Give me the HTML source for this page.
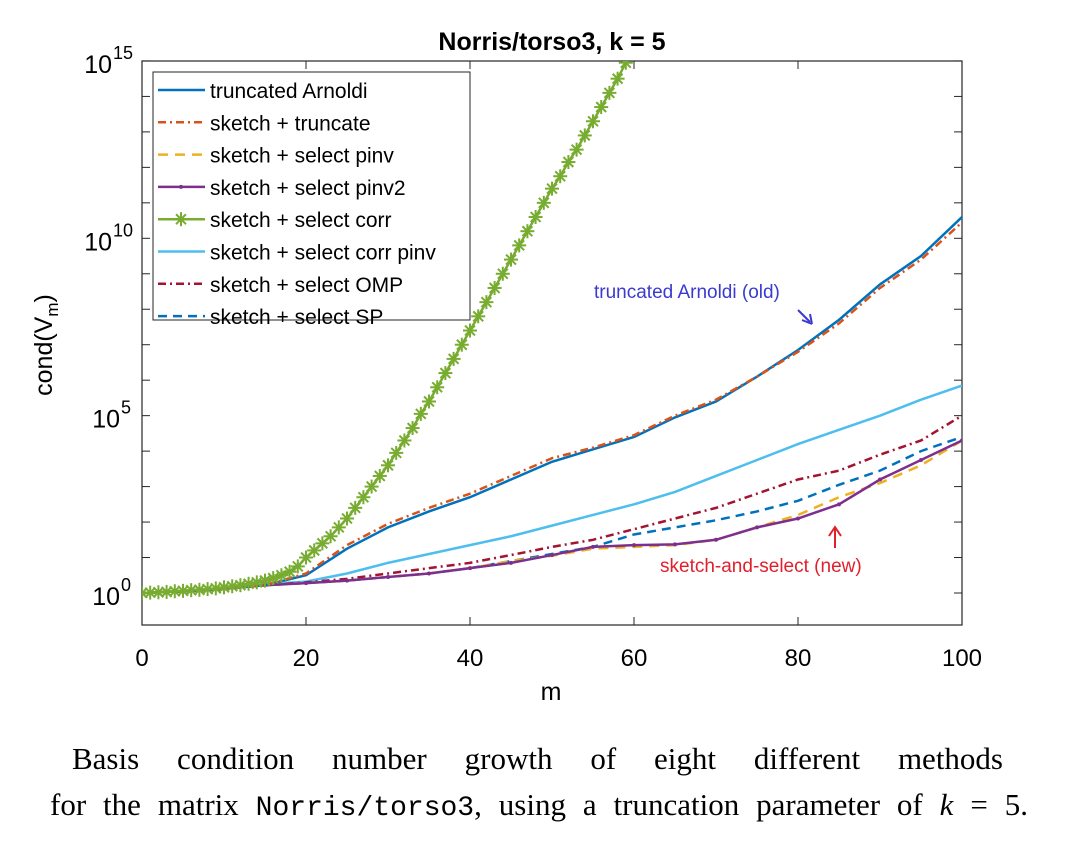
<!DOCTYPE html>
<html><head><meta charset="utf-8"><style>
body{margin:0;background:#fff;width:1082px;height:850px;overflow:hidden;position:relative}
svg{display:block}
.cap{position:absolute;font-family:"Liberation Serif",serif;font-size:31px;text-align:justify;text-align-last:justify;white-space:nowrap}
.mono{font-family:"Liberation Mono",monospace;font-size:28px}
</style></head><body>
<svg width="1082" height="850" font-family="Liberation Sans, sans-serif">
<defs><clipPath id="pc"><rect x="142" y="61" width="820" height="564"/></clipPath></defs>
<text x="552" y="50" text-anchor="middle" font-size="25" font-weight="bold">Norris/torso3, k = 5</text>
<g id="axes"></g>
<g id="series" clip-path="url(#pc)"></g>
<text x="551" y="700" text-anchor="middle" font-size="25">m</text>
<text transform="translate(52,345) rotate(-90)" text-anchor="middle" font-size="25">cond(V<tspan font-size="17" dy="6">m</tspan><tspan dy="-6">)</tspan></text>
<text x="594" y="298" font-size="19" fill="#3a3ad0">truncated Arnoldi (old)</text>
<line x1="798" y1="310" x2="810" y2="322" stroke="#3a3ad0" stroke-width="2"/>
<path d="M812 324 L802 320 M812 324 L810 314" stroke="#3a3ad0" stroke-width="2" fill="none"/>
<text x="660" y="572" font-size="19" fill="#e0202a">sketch-and-select (new)</text>
<line x1="835" y1="548" x2="835" y2="528" stroke="#e0202a" stroke-width="2"/>
<path d="M829 536 L835 527 L841 536" stroke="#e0202a" stroke-width="2" fill="none"/>
<g id="legend"></g>
</svg>
<div class="cap" style="left:72px;top:741px;width:931px">Basis condition number growth of eight different methods</div>
<div class="cap" style="left:50px;top:787px;width:978px">for the matrix <span class="mono">Norris/torso3</span>, using a truncation parameter of <i>k</i> = 5.</div>
<script>
const mSteps=[0,5,10,15,20,25,30,35,40,45,50,55,60,65,70,75,80,85,90,95,100];
const truncArnoldi=[0,0.05,0.12,0.22,0.5,1.25,1.85,2.3,2.7,3.2,3.7,4.05,4.4,4.95,5.4,6.1,6.85,7.7,8.7,9.5,10.6];
const sketchTrunc=[0,0.05,0.12,0.22,0.55,1.35,1.95,2.4,2.8,3.3,3.8,4.1,4.45,5.0,5.45,6.1,6.8,7.6,8.6,9.4,10.45];
const corrPinv=[0,0.06,0.12,0.25,0.32,0.55,0.85,1.1,1.35,1.6,1.9,2.2,2.5,2.85,3.3,3.75,4.2,4.6,5.0,5.45,5.85];
const omp=[0,0.05,0.12,0.22,0.3,0.4,0.55,0.7,0.85,1.07,1.3,1.5,1.8,2.1,2.4,2.8,3.2,3.45,3.9,4.3,5.0];
const sp=[0,0.05,0.12,0.22,0.28,0.35,0.45,0.55,0.7,0.9,1.1,1.3,1.65,1.85,2.05,2.3,2.6,3.05,3.45,4.0,4.4];
const pinv=[0,0.05,0.12,0.22,0.28,0.35,0.45,0.55,0.7,0.9,1.05,1.25,1.3,1.35,1.5,1.85,2.2,2.7,3.1,3.6,4.3];
const pinv2=[0,0.05,0.12,0.22,0.28,0.35,0.45,0.55,0.7,0.85,1.07,1.3,1.35,1.37,1.5,1.85,2.1,2.5,3.2,3.75,4.3];
const corrM=[0,1,2,3,4,5,6,7,8,9,10,11,12,13,14,15,16,17,18,19,20,21,22,23,24,25,26,27,28,29,30,31,32,33,34,35,36,37,38,39,40,41,42,43,44,45,46,47,48,49,50,51,52,53,54,55,56,57,58,59,60];
const corr=[0,0.01,0.02,0.03,0.05,0.06,0.08,0.09,0.11,0.13,0.16,0.19,0.22,0.26,0.3,0.35,0.42,0.5,0.6,0.75,1.0,1.2,1.4,1.6,1.85,2.1,2.4,2.7,3.0,3.3,3.6,3.95,4.3,4.65,5.05,5.4,5.8,6.2,6.6,7.0,7.4,7.8,8.2,8.6,9.0,9.4,9.8,10.2,10.6,11.0,11.4,11.75,12.15,12.5,12.9,13.3,13.7,14.1,14.5,14.95,15.4];
const xTicks=[0,20,40,60,80,100];
const yLabelExps=[0,5,10,15];
const NS='http://www.w3.org/2000/svg';
const X=m=>142+m*8.2, Y=l=>593-l*35.47;
function el(t,a,p){const e=document.createElementNS(NS,t);for(const k in a)e.setAttribute(k,a[k]);p.appendChild(e);return e;}
const ax=document.getElementById('axes');
const frame=el('rect',{x:142,y:61,width:820,height:564,fill:'none',stroke:'#262626','stroke-width':1.2},ax);


xTicks.forEach(v=>{
  el('line',{x1:X(v),x2:X(v),y1:625,y2:617,stroke:'#262626'},ax);
  el('line',{x1:X(v),x2:X(v),y1:61,y2:69,stroke:'#262626'},ax);
  const t=el('text',{x:X(v),y:666,'text-anchor':'middle','font-size':24},ax);t.textContent=v;
  
  
});
for(let d=0;d<=15;d++){
  el('line',{x1:142,x2:150,y1:Y(d),y2:Y(d),stroke:'#262626'},ax);
  el('line',{x1:962,x2:954,y1:Y(d),y2:Y(d),stroke:'#262626'},ax);
}
yLabelExps.forEach(e=>{
  const t=el('text',{x:e>=10?112:120,y:Y(e)+12,'text-anchor':'end','font-size':25},ax);
  t.textContent='10';
  
  
  const s=el('text',{x:e>=10?113:121,y:Y(e)-2,'font-size':18},ax);s.textContent=e;
});
const sg=document.getElementById('series');
function line(ms,vals,color,dash,w,name){
  const p=el('polyline',{points:ms.map((m,i)=>X(m)+','+Y(vals[i])).join(' '),fill:'none',stroke:color,'stroke-width':w,'stroke-dasharray':dash||'none'},sg);
  
  
  return p;
}
line(mSteps,corrPinv,'#4dbeee','',2.5,'series-corr-pinv');
line(mSteps,omp,'#a2142f','8,4,2,4',2.5,'series-omp');
line(mSteps,sp,'#0072bd','9,6',2.5,'series-sp');
line(mSteps,pinv,'#edb120','10,7',2.5,'series-pinv');
line(mSteps,pinv2,'#7e2f8e','',2.5,'series-pinv2');
mSteps.forEach((m,i)=>el('circle',{cx:X(m),cy:Y(pinv2[i]),r:2,fill:'#7e2f8e'},sg));
line(mSteps,truncArnoldi,'#0072bd','',2.5,'series-truncated-arnoldi');
line(mSteps,sketchTrunc,'#d95319','8,4,2,4',2.5,'series-sketch-truncate');
line(corrM,corr,'#77ac30','',2.5,'series-corr');
function star(cx,cy,g,r){for(let k=0;k<4;k++){const a=k*Math.PI/4;el('line',{x1:cx-r*Math.cos(a),y1:cy-r*Math.sin(a),x2:cx+r*Math.cos(a),y2:cy+r*Math.sin(a),stroke:'#77ac30','stroke-width':2},g);}}
corrM.forEach((m,i)=>star(X(m),Y(corr[i]),sg,7));
const lg=document.getElementById('legend');
el('rect',{x:153,y:72,width:317,height:248,fill:'#fff',stroke:'#262626','stroke-width':1},lg);
const items=[['truncated Arnoldi','#0072bd',''],['sketch + truncate','#d95319','8,4,2,4'],['sketch + select pinv','#edb120','10,7'],['sketch + select pinv2','#7e2f8e',''],['sketch + select corr','#77ac30',''],['sketch + select corr pinv','#4dbeee',''],['sketch + select OMP','#a2142f','8,4,2,4'],['sketch + select SP','#0072bd','9,6']];
items.forEach((it,i)=>{
  const y=90+i*32.3;
  el('line',{x1:158,x2:205,y1:y,y2:y,stroke:it[1],'stroke-width':2.5,'stroke-dasharray':it[2]||'none'},lg);
  if(i==3)el('circle',{cx:181,cy:y,r:2,fill:'#7e2f8e'},lg);
  if(i==4)star(181,y,lg,7);
  const t=el('text',{x:210,y:y+8,'font-size':21},lg);t.textContent=it[0];
  
  
});
</script>
</body></html>
